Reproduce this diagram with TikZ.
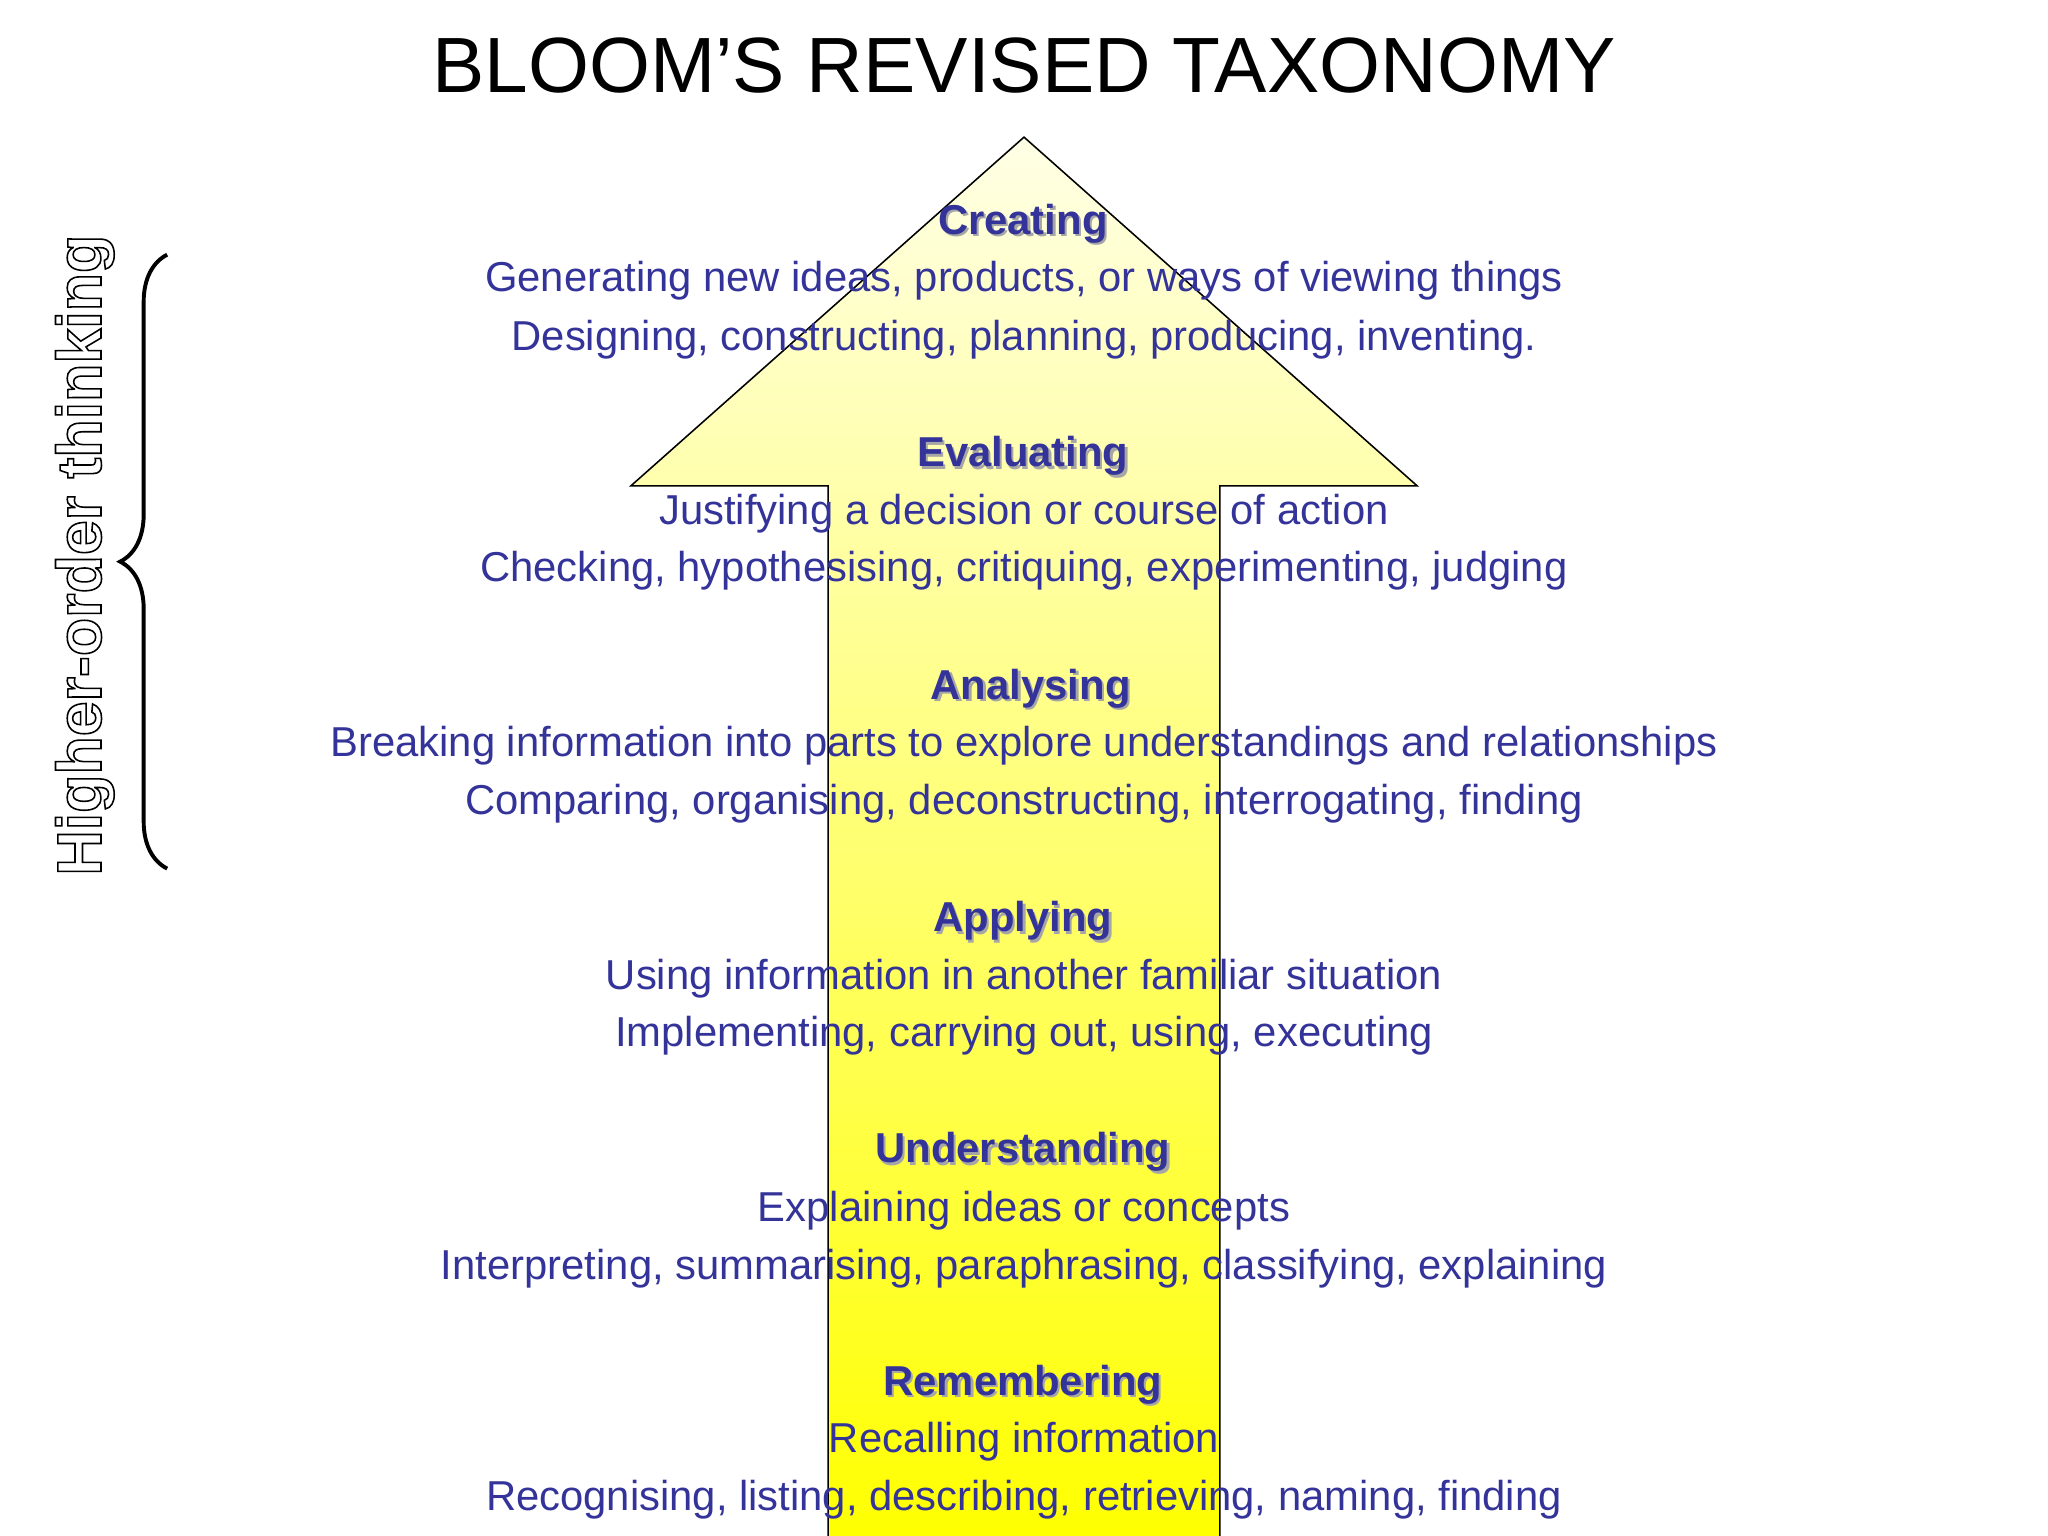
\documentclass[tikz,border=0pt]{standalone}
\usepackage{fontspec}
\setmainfont{Liberation Sans}
\usetikzlibrary{decorations.pathreplacing,shadows}
\definecolor{txtblue}{RGB}{51,51,153}
\tikzset{
  body/.style={text=txtblue,font=\fontsize{16}{19}\selectfont,anchor=center,inner sep=0pt},
  head/.style={text=txtblue,font=\bfseries\fontsize{16}{19}\selectfont,anchor=center,inner sep=0pt},
}
\newcommand{\shd}[1]{\tikz[baseline=(s.base)]{\node[inner sep=0pt,text=gray!70] at (0.9pt,-0.9pt){#1};\node[inner sep=0pt] (s) at (0,0){#1};}}
\begin{document}
\begin{tikzpicture}[x=0.5pt,y=-0.5pt]
\useasboundingbox (0,0) rectangle (1568,1176);
\fill[white] (0,0) rectangle (1568,1176);
\node[font=\fontsize{30}{34}\selectfont,inner sep=0pt] (title) at (784,50) {BLOOM’S REVISED TAXONOMY};
\shade[top color=yellow!10,bottom color=yellow,draw=black,line width=0.6pt]
  (784,105) -- (1085,372) -- (934,372) -- (934,1180) -- (634,1180) -- (634,372) -- (483,372) -- cycle;
\node[head] (h1) at (784,172) {\shd{Creating}};
\node[body] (a1) at (784,215) {Generating new ideas, products, or ways of viewing things};
\node[body] (b1) at (784,260) {Designing, constructing, planning, producing, inventing.};
\node[head] (h2) at (784,350) {\shd{Evaluating}};
\node[body] (a2) at (784,393) {Justifying a decision or course of action};
\node[body] (b2) at (784,437) {Checking, hypothesising, critiquing, experimenting, judging};
\node[head] (h3) at (790,528) {\shd{Analysing}};
\node[body] (a3) at (784,571) {Breaking information into parts to explore understandings and relationships};
\node[body] (b3) at (784,615) {Comparing, organising, deconstructing, interrogating, finding};
\node[head] (h4) at (784,706) {\shd{Applying}};
\node[body] (a4) at (784,749) {Using information in another familiar situation};
\node[body] (b4) at (784,793) {Implementing, carrying out, using, executing};
\node[head] (h5) at (784,883) {\shd{Understanding}};
\node[body] (a5) at (784,927) {Explaining ideas or concepts};
\node[body] (b5) at (784,971) {Interpreting, summarising, paraphrasing, classifying, explaining};
\node[head] (h6) at (784,1061) {\shd{Remembering}};
\node[body] (a6) at (784,1104) {Recalling information};
\node[body] (b6) at (784,1148) {Recognising, listing, describing, retrieving, naming, finding};
\node[rotate=90,font=\bfseries\fontsize{24}{28}\selectfont,inner sep=0pt] (hot) at (65,425)
  {\special{pdf:code 1 Tr 0.6 w}Higher-order thinking\special{pdf:code 0 Tr}};
\coordinate (bt) at (128,195);
\coordinate (bb) at (128,665);
\draw[line width=1.5pt,decorate,decoration={brace,amplitude=18pt,mirror,raise=0pt}] (bt) -- (bb);
\end{tikzpicture}
\end{document}
